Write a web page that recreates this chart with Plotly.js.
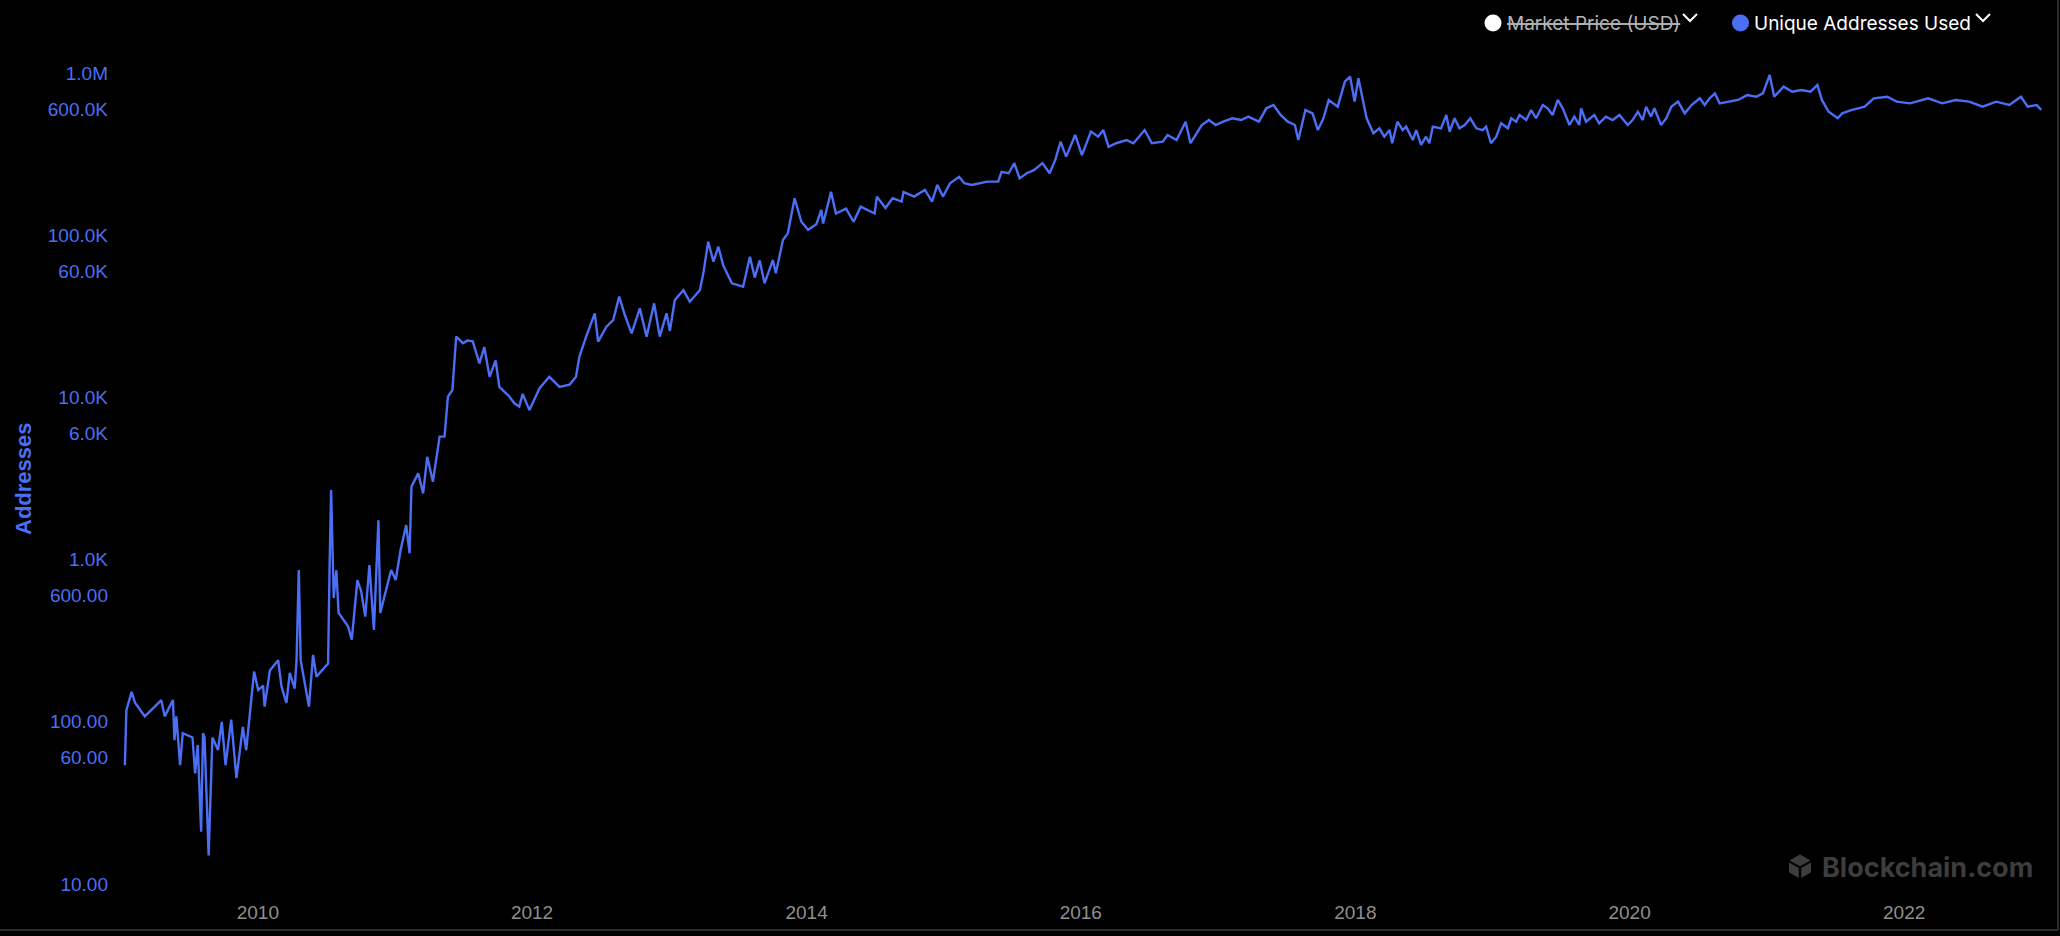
<!DOCTYPE html>
<html>
<head>
<meta charset="utf-8">
<script src="https://cdn.plot.ly/plotly-3.0.1.min.js"></script>
<style>
html,body{margin:0;padding:0;background:#000;overflow:hidden;}
#chart{width:2060px;height:936px;}
</style>
</head>
<body>
<div id="chart"></div>
<script>
// ---- data ----
const dates = [
'2009-01-12','2009-01-16','2009-01-30','2009-02-08','2009-03-06','2009-04-19','2009-04-28','2009-05-20','2009-05-24','2009-05-29',
'2009-06-08','2009-06-15','2009-07-11','2009-07-18','2009-07-25','2009-08-03','2009-08-08','2009-08-12','2009-08-23','2009-09-02',
'2009-09-17','2009-09-27','2009-10-07','2009-10-22','2009-11-05','2009-11-22','2009-12-01','2009-12-10','2009-12-22','2010-01-02',
'2010-01-15','2010-01-19','2010-02-02','2010-02-24','2010-03-05','2010-03-18','2010-03-27','2010-04-09','2010-04-14','2010-04-20',
'2010-04-25','2010-05-17','2010-05-28','2010-06-06','2010-07-07','2010-07-11','2010-07-15','2010-07-22','2010-07-29','2010-08-04',
'2010-08-29','2010-09-08','2010-09-23','2010-10-03','2010-10-14','2010-10-25','2010-11-06','2010-11-18','2010-11-23','2010-12-04',
'2010-12-22','2011-01-03','2011-01-16','2011-01-31','2011-02-09','2011-02-14','2011-03-04','2011-03-17','2011-03-28','2011-04-12',
'2011-04-30','2011-05-13','2011-05-22','2011-06-03','2011-06-13','2011-07-01','2011-07-13','2011-07-27','2011-08-14','2011-08-27',
'2011-09-10','2011-09-26','2011-10-06','2011-11-02','2011-11-15','2011-11-28','2011-12-07','2011-12-25','2012-01-07','2012-01-21',
'2012-02-16','2012-03-14','2012-04-10','2012-04-27','2012-05-06','2012-05-24','2012-06-16','2012-06-25','2012-07-17','2012-08-04',
'2012-08-20','2012-09-04','2012-09-22','2012-10-14','2012-11-01','2012-11-21','2012-12-06','2012-12-24','2013-01-02','2013-01-15',
'2013-02-07','2013-02-24','2013-03-23','2013-04-01','2013-04-14','2013-04-28','2013-05-11','2013-05-24','2013-06-16','2013-07-16',
'2013-08-03','2013-08-16','2013-08-29','2013-09-11','2013-10-03','2013-10-11','2013-10-30','2013-11-12','2013-11-30','2013-12-18',
'2014-01-05','2014-01-27','2014-02-09','2014-02-14','2014-03-07','2014-03-20','2014-04-16','2014-05-06','2014-05-25','2014-07-01',
'2014-07-07','2014-07-30','2014-08-18','2014-09-11','2014-09-16','2014-10-14','2014-11-12','2014-12-01','2014-12-15','2014-12-30',
'2015-01-18','2015-02-11','2015-02-25','2015-03-16','2015-04-27','2015-05-26','2015-06-04','2015-06-23','2015-07-08','2015-07-22',
'2015-08-10','2015-08-29','2015-09-21','2015-10-10','2015-10-25','2015-11-08','2015-11-23','2015-12-17','2016-01-04','2016-01-28',
'2016-02-16','2016-03-01','2016-03-15','2016-04-04','2016-05-02','2016-05-20','2016-06-19','2016-07-08','2016-08-06','2016-08-19',
'2016-09-12','2016-10-06','2016-10-19','2016-11-18','2016-12-07','2016-12-25','2017-01-14','2017-02-07','2017-03-03','2017-03-22',
'2017-04-19','2017-05-09','2017-05-28','2017-06-16','2017-07-05','2017-07-24','2017-08-02','2017-08-21','2017-09-09','2017-09-23',
'2017-10-08','2017-10-22','2017-11-15','2017-12-04','2017-12-18','2017-12-30','2018-01-09','2018-01-20','2018-01-31','2018-02-18',
'2018-03-06','2018-03-19','2018-04-02','2018-04-09','2018-04-23','2018-05-07','2018-05-16','2018-06-03','2018-06-12','2018-06-25',
'2018-07-08','2018-07-17','2018-07-26','2018-08-17','2018-08-31','2018-09-09','2018-09-22','2018-10-05','2018-10-19','2018-11-03',
'2018-11-19','2018-12-06','2018-12-15','2018-12-28','2019-01-11','2019-01-24','2019-02-11','2019-02-20','2019-03-05','2019-03-14',
'2019-04-01','2019-04-14','2019-04-27','2019-05-15','2019-05-28','2019-06-10','2019-06-24','2019-07-07','2019-07-25','2019-08-07',
'2019-08-20','2019-08-25','2019-09-07','2019-09-29','2019-10-12','2019-10-30','2019-11-17','2019-12-05','2019-12-27','2020-01-09',
'2020-01-23','2020-02-05','2020-02-14','2020-02-27','2020-03-07','2020-03-25','2020-04-08','2020-04-21','2020-05-09','2020-05-27',
'2020-06-14','2020-07-06','2020-07-19','2020-08-01','2020-08-15','2020-08-28',
'2020-09-22','2020-10-16','2020-11-09','2020-12-03','2020-12-21','2021-01-08','2021-01-20','2021-02-14','2021-03-09','2021-04-02',
'2021-04-27','2021-05-15','2021-05-27','2021-06-14','2021-07-08','2021-07-20','2021-08-13','2021-09-18','2021-10-12','2021-11-17',
'2021-12-12','2022-01-17','2022-03-06','2022-04-12','2022-05-18','2022-06-23','2022-07-29','2022-09-03','2022-10-08','2022-11-08',
'2022-11-26','2022-12-20','2023-01-01'
];
const addresses = [
54,118,153,131,108,136,108,136,77,108,
54,85,80,48,72,21,85,80,15,80,
67,100,54,103,45,93,67,108,204,157,
167,124,207,240,165,131,200,160,240,862,
240,124,258,190,229,904,2690,580,860,469,
388,321,748,640,445,926,368,1750,469,592,
862,748,1146,1633,1093,2820,3400,2560,4300,3020,
5730,5730,10100,11100,23700,21600,22400,22200,16200,20400,
13400,16900,11600,10100,9200,8770,10500,8360,9600,11400,
13400,11600,12000,13400,17800,23700,33000,22100,27300,30000,
41800,32200,24800,35400,23700,38000,23700,33000,25700,39800,
45900,38900,45900,58200,91200,68700,84900,65300,50500,48100,
73600,54800,69900,50500,70300,58200,93300,102700,169000,121000,
108000,117000,143000,118000,185000,136000,146000,121000,150000,136000,
173000,147000,169000,161000,185000,173000,190000,161000,204000,173000,
209000,229000,209000,204000,214000,214000,246000,241000,278000,224000,
241000,252000,278000,241000,291000,377000,305000,415000,312000,435000,
405000,445000,351000,369000,386000,369000,445000,369000,377000,415000,
386000,501000,369000,478000,513000,478000,501000,526000,513000,538000,
501000,606000,635000,551000,501000,478000,386000,591000,564000,445000,
526000,682000,620000,884000,949000,666000,928000,714000,526000,425000,
456000,405000,445000,369000,501000,445000,467000,386000,445000,360000,
405000,369000,467000,456000,551000,435000,526000,456000,478000,526000,
456000,445000,467000,369000,405000,490000,456000,526000,501000,551000,
513000,591000,526000,635000,606000,551000,682000,606000,478000,538000,
478000,606000,501000,551000,490000,538000,513000,551000,478000,513000,
577000,513000,620000,538000,606000,478000,526000,620000,666000,564000,
635000,698000,635000,698000,749000,650000,
666000,682000,731000,714000,749000,972000,714000,824000,767000,785000,
767000,844000,682000,577000,526000,564000,591000,620000,698000,714000,
666000,650000,698000,650000,682000,666000,620000,666000,635000,714000,
620000,635000,591000
];
const yTickVals = [10, 60, 100, 600, 1000, 6000, 10000, 60000, 100000, 600000, 1000000];
const yTickText = ['10.00', '60.00', '100.00', '600.00', '1.0K', '6.0K', '10.0K', '60.0K', '100.0K', '600.0K', '1.0M'];
const xTickVals = ['2010-01-01', '2012-01-01', '2014-01-01', '2016-01-01', '2018-01-01', '2020-01-01', '2022-01-01'];
const xTickText = ['2010', '2012', '2014', '2016', '2018', '2020', '2022'];
const legendLabels = ['Market Price (USD)', 'Unique Addresses Used'];
const yTitle = 'Addresses';
const watermarkText = 'Blockchain.com';

// ---- layout helpers (pixel -> paper) ----
const L = 120, T = 40, W = 1925, H = 855;
const BLUE = '#4b6ef5';
const px = x => (x - L) / W;
const py = y => (T + H - y) / H;

const trace = {
  x: dates,
  y: addresses,
  type: 'scatter',
  mode: 'lines',
  name: legendLabels[1],
  line: {color: BLUE, width: 2.4},
  hoverinfo: 'x+y',
  showlegend: false
};

function chevron(x0, x1, yTop, yBot) {
  const xm = (x0 + x1) / 2;
  return {
    type: 'path', xref: 'paper', yref: 'paper',
    path: `M ${px(x0)} ${py(yTop)} L ${px(xm)} ${py(yBot)} L ${px(x1)} ${py(yTop)}`,
    line: {color: '#ffffff', width: 2}
  };
}
function circle(cx, cy, r, color) {
  return {
    type: 'circle', xref: 'paper', yref: 'paper',
    x0: px(cx - r), x1: px(cx + r), y0: py(cy + r), y1: py(cy - r),
    fillcolor: color, line: {width: 0}
  };
}

const iconSvg = 'data:image/svg+xml;utf8,' + encodeURIComponent(
  '<svg xmlns="http://www.w3.org/2000/svg" width="26" height="26" viewBox="0 0 26 26">' +
  '<g fill="#3d3d3d">' +
  '<path d="M13 1.5 L23.5 7.5 L13 13.2 L2.5 7.5 Z"/>' +
  '<path d="M2 9.6 L11.8 15 L11.8 25 L2 19.2 Z"/>' +
  '<path d="M14.2 15 L24 9.6 L24 19.2 L14.2 25 Z"/>' +
  '</g></svg>');

const layout = {
  width: 2060, height: 936, autosize: false,
  paper_bgcolor: '#000000', plot_bgcolor: '#000000',
  margin: {l: L, r: 2060 - L - W, t: T, b: 936 - T - H, pad: 0},
  showlegend: false,
  xaxis: {
    type: 'date',
    range: ['2008-12-30', '2023-01-11'],
    tickmode: 'array', tickvals: xTickVals, ticktext: xTickText,
    showgrid: false, zeroline: false, showline: false, ticks: '',
    ticklabelstandoff: 4,
    tickfont: {family: 'Liberation Sans, Arial, sans-serif', size: 19, color: '#8f8f8f'}
  },
  yaxis: {
    type: 'log',
    range: [0.9322, 6.2035],
    tickmode: 'array', tickvals: yTickVals, ticktext: yTickText,
    showgrid: false, zeroline: false, showline: false, ticks: '',
    ticklabelstandoff: 11,
    tickfont: {family: 'Liberation Sans, Arial, sans-serif', size: 19, color: BLUE}
  },
  shapes: [
    circle(1493, 23, 8.5, '#ffffff'),
    circle(1740.5, 23, 8.5, BLUE),
    chevron(1683, 1697, 14, 21),
    chevron(1976, 1990, 14, 21),
    {type: 'line', xref: 'paper', yref: 'paper', x0: px(0), x1: px(2058), y0: py(930), y1: py(930),
     line: {color: '#3a3a3a', width: 1.5}},
    {type: 'line', xref: 'paper', yref: 'paper', x0: px(2058), x1: px(2058), y0: py(0), y1: py(930),
     line: {color: '#3a3a3a', width: 1.5}}
  ],
  annotations: [
    {xref: 'paper', yref: 'paper', x: px(1505), y: py(23), xanchor: 'left', yanchor: 'middle',
     text: '<s>' + legendLabels[0] + '</s>', showarrow: false,
     font: {family: 'Inter, sans-serif', size: 19, color: '#b4b4b4'}},
    {xref: 'paper', yref: 'paper', x: px(1752), y: py(23), xanchor: 'left', yanchor: 'middle',
     text: legendLabels[1], showarrow: false,
     font: {family: 'Inter, sans-serif', size: 19, color: '#ffffff'}},
    {xref: 'paper', yref: 'paper', x: px(23), y: py(479), xanchor: 'center', yanchor: 'middle',
     text: '<b>' + yTitle + '</b>', textangle: -90, showarrow: false,
     font: {family: 'Liberation Sans, Arial, sans-serif', size: 22, color: BLUE}},
    {xref: 'paper', yref: 'paper', x: px(1820), y: py(867), xanchor: 'left', yanchor: 'middle',
     text: '<b>' + watermarkText + '</b>', showarrow: false,
     font: {family: 'Inter, sans-serif', size: 27, color: '#3d3d3d'}}
  ],
  images: [
    {source: iconSvg, xref: 'paper', yref: 'paper', x: px(1787), y: py(853),
     sizex: 26 / W, sizey: 26 / H, xanchor: 'left', yanchor: 'top', sizing: 'stretch', layer: 'above'}
  ]
};

Plotly.newPlot('chart', [trace], layout, {displayModeBar: false, responsive: false});
</script>
</body>
</html>
